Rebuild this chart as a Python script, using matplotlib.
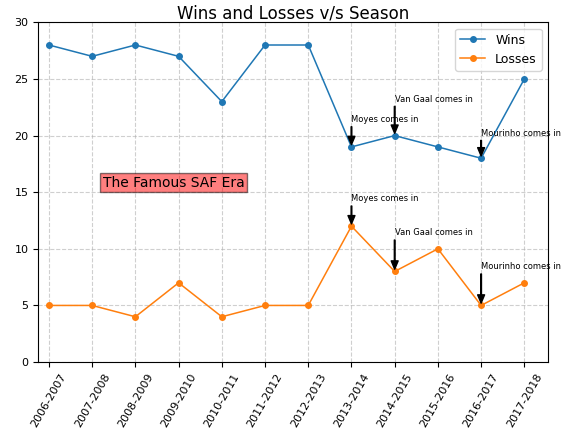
import matplotlib
matplotlib.use("Agg")
from matplotlib import pyplot as plt

seasons = ['2006-2007', '2007-2008', '2008-2009', '2009-2010', '2010-2011', '2011-2012',
           '2012-2013', '2013-2014', '2014-2015', '2015-2016', '2016-2017', '2017-2018']
wins = [28, 27, 28, 27, 23, 28, 28, 19, 20, 19, 18, 25]
losses = [5, 5, 4, 7, 4, 5, 5, 12, 8, 10, 5, 7]
notes = [(7, 'Moyes comes in', 21.2, 14.2), (8, 'Van Gaal comes in', 23.0, 11.2),
         (10, 'Mourinho comes in', 20.0, 8.2)]

fig = plt.figure(figsize=(5.61, 4.30), dpi=100)
ax = fig.add_axes([0.068, 0.158, 0.909, 0.79])
x = range(len(seasons))
ax.plot(x, wins, marker='o', markersize=4, lw=1.1, label='Wins')
ax.plot(x, losses, marker='o', markersize=4, lw=1.1, label='Losses')
for i, txt, yw, yl in notes:
    ax.annotate(txt, xy=(i, wins[i] + 0.2), xytext=(i, yw), fontsize=6,
                arrowprops=dict(facecolor='black', width=0.5, headwidth=5, headlength=6))
    ax.annotate(txt, xy=(i, losses[i] + 0.2), xytext=(i, yl), fontsize=6,
                arrowprops=dict(facecolor='black', width=0.5, headwidth=5, headlength=6))
ax.text(1.25, 15.5, 'The Famous SAF Era', fontsize=10,
        bbox=dict(facecolor='red', alpha=0.5, pad=2))
ax.set_xticks(list(x))
ax.set_xticklabels(seasons, rotation=60, fontsize=8)
ax.set_ylim(0, 30)
ax.set_xlim(-0.25, 11.55)
ax.tick_params(axis='y', labelsize=8)
ax.grid(True, linestyle='--', alpha=0.6)
ax.set_title('Wins and Losses v/s Season', fontsize=12, pad=3)
ax.legend(fontsize=9)
fig.savefig('out.png', dpi=100)
